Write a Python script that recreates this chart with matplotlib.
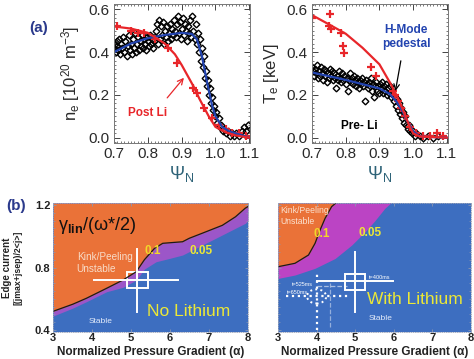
import matplotlib
matplotlib.use("Agg")
import matplotlib.pyplot as plt
from matplotlib.patches import Rectangle, Ellipse
from matplotlib.ticker import MultipleLocator

plt.rcParams['font.family'] = ['Liberation Sans', 'DejaVu Sans']
plt.rcParams['mathtext.fontset'] = 'custom'
plt.rcParams['mathtext.rm'] = 'Liberation Sans'
plt.rcParams['mathtext.it'] = 'Liberation Sans:italic'
plt.rcParams['mathtext.bf'] = 'Liberation Sans:bold'

# ---- (a) density profiles ----
ne_pre_x = [0.700, 0.702, 0.705, 0.708, 0.710, 0.713, 0.716, 0.719, 0.722, 0.725,
            0.728, 0.731, 0.734, 0.737, 0.740, 0.743, 0.746, 0.749, 0.752, 0.755,
            0.758, 0.761, 0.764, 0.767, 0.770, 0.773, 0.776, 0.779, 0.782, 0.785,
            0.788, 0.791, 0.794, 0.797, 0.800, 0.803, 0.806, 0.809, 0.812, 0.815,
            0.818, 0.821, 0.824, 0.827, 0.830, 0.833, 0.836, 0.839, 0.842, 0.845,
            0.848, 0.851, 0.854, 0.857, 0.860, 0.863, 0.866, 0.869, 0.872, 0.875,
            0.878, 0.881, 0.884, 0.887, 0.890, 0.893, 0.896, 0.899, 0.902, 0.905,
            0.908, 0.911, 0.914, 0.917, 0.920, 0.923, 0.926, 0.929, 0.932, 0.935,
            0.938, 0.941, 0.944, 0.947, 0.950, 0.953, 0.956, 0.959, 0.962, 0.965,
            0.968, 0.971, 0.974, 0.977, 0.980, 0.983, 0.986, 0.989, 0.992, 0.995,
            0.998, 1.001, 1.005, 1.009, 1.013, 1.017, 1.021, 1.026, 1.031, 1.036,
            1.042, 1.048, 1.055, 1.062, 1.070, 1.078, 1.085, 1.090, 1.095]
ne_pre_y = [0.42, 0.44, 0.40, 0.45, 0.43, 0.41, 0.46, 0.39, 0.44, 0.42,
            0.47, 0.40, 0.45, 0.38, 0.43, 0.48, 0.41, 0.44, 0.39, 0.46,
            0.42, 0.49, 0.40, 0.44, 0.47, 0.41, 0.45, 0.43, 0.48, 0.42,
            0.46, 0.44, 0.41, 0.47, 0.45, 0.43, 0.48, 0.44, 0.46, 0.42,
            0.45, 0.47, 0.50, 0.53, 0.44, 0.55, 0.46, 0.52, 0.48, 0.54,
            0.44, 0.50, 0.47, 0.52, 0.45, 0.49, 0.53, 0.46, 0.51, 0.48,
            0.55, 0.50, 0.47, 0.53, 0.57, 0.49, 0.54, 0.46, 0.51, 0.56,
            0.48, 0.53, 0.50, 0.45, 0.52, 0.49, 0.55, 0.47, 0.57, 0.50,
            0.46, 0.53, 0.44, 0.49, 0.40, 0.46, 0.36, 0.42, 0.33, 0.38,
            0.28, 0.31, 0.24, 0.27, 0.20, 0.23, 0.16, 0.19, 0.13, 0.15,
            0.10, 0.12, 0.07, 0.09, 0.05, 0.06, 0.03, 0.04, 0.02, 0.03,
            0.01, 0.02, 0.01, 0.02, 0.01, 0.03, 0.05, 0.03, 0.06]
ne_pre_fit_x = [0.70, 0.75, 0.80, 0.85, 0.90, 0.93, 0.945, 0.96, 0.975, 0.99, 1.00, 1.02, 1.04, 1.07, 1.10]
ne_pre_fit_y = [0.40, 0.44, 0.465, 0.48, 0.49, 0.485, 0.46, 0.38, 0.26, 0.15, 0.10, 0.05, 0.03, 0.015, 0.0]

ne_post_x = [0.71, 0.75, 0.77, 0.79, 0.82, 0.86, 0.885, 0.935, 0.945, 0.965, 0.99, 1.01, 1.03, 1.05, 1.07, 1.09]
ne_post_y = [0.52, 0.50, 0.49, 0.49, 0.46, 0.42, 0.35, 0.23, 0.21, 0.14, 0.09, 0.06, 0.04, 0.02, 0.02, 0.01]
ne_post_fit_x = [0.70, 0.75, 0.80, 0.85, 0.88, 0.90, 0.935, 0.953, 0.98, 1.00, 1.03, 1.06, 1.10]
ne_post_fit_y = [0.52, 0.51, 0.49, 0.44, 0.39, 0.34, 0.24, 0.18, 0.10, 0.05, 0.025, 0.01, 0.0]

# ---- (a) temperature profiles ----
te_pre_x = [0.700, 0.703, 0.706, 0.709, 0.712, 0.715, 0.718, 0.721, 0.724, 0.727,
            0.730, 0.733, 0.736, 0.739, 0.742, 0.745, 0.748, 0.751, 0.754, 0.757,
            0.760, 0.763, 0.766, 0.769, 0.772, 0.775, 0.778, 0.781, 0.784, 0.787,
            0.790, 0.793, 0.796, 0.800, 0.803, 0.806, 0.809, 0.812, 0.815, 0.818,
            0.821, 0.824, 0.827, 0.830, 0.833, 0.836, 0.839, 0.842, 0.845, 0.848,
            0.851, 0.854, 0.857, 0.860, 0.863, 0.866, 0.869, 0.872, 0.875, 0.878,
            0.881, 0.884, 0.887, 0.890, 0.893, 0.896, 0.899, 0.902, 0.905, 0.908,
            0.911, 0.914, 0.917, 0.920, 0.923, 0.926, 0.929, 0.932, 0.935, 0.938,
            0.941, 0.944, 0.947, 0.950, 0.953, 0.956, 0.959, 0.962, 0.965, 0.968,
            0.971, 0.974, 0.977, 0.980, 0.984, 0.988, 0.992, 0.996, 1.000, 1.005,
            1.010, 1.020, 1.030, 1.045, 1.060, 1.075]
te_pre_y = [0.33, 0.31, 0.29, 0.32, 0.30, 0.34, 0.28, 0.31, 0.29, 0.33,
            0.30, 0.27, 0.32, 0.29, 0.31, 0.26, 0.30, 0.28, 0.32, 0.29,
            0.31, 0.27, 0.30, 0.28, 0.23, 0.29, 0.27, 0.31, 0.28, 0.26,
            0.30, 0.27, 0.29, 0.25, 0.28, 0.22, 0.27, 0.30, 0.26, 0.28,
            0.25, 0.29, 0.27, 0.24, 0.28, 0.26, 0.23, 0.27, 0.25, 0.28,
            0.24, 0.26, 0.17, 0.27, 0.25, 0.23, 0.26, 0.24, 0.28, 0.22,
            0.25, 0.19, 0.24, 0.26, 0.22, 0.24, 0.21, 0.25, 0.23, 0.26,
            0.21, 0.24, 0.22, 0.25, 0.20, 0.23, 0.21, 0.24, 0.19, 0.22,
            0.20, 0.17, 0.19, 0.15, 0.18, 0.13, 0.16, 0.11, 0.14, 0.09,
            0.12, 0.07, 0.10, 0.06, 0.04, 0.06, 0.03, 0.02, 0.03, 0.01,
            0.02, 0.01, 0.00, 0.01, 0.00, 0.01]
te_pre_fit_x = [0.70, 0.80, 0.90, 0.93, 0.95, 0.97, 0.98, 1.00, 1.02, 1.10]
te_pre_fit_y = [0.305, 0.27, 0.23, 0.205, 0.17, 0.12, 0.085, 0.03, 0.005, 0.0]

te_post_x = [0.70, 0.75, 0.754, 0.756, 0.785, 0.793, 0.795, 0.876, 0.89, 0.94, 0.945,
             0.955, 0.965, 0.975, 0.99, 1.01, 1.03, 1.05, 1.07, 1.09]
te_post_y = [0.56, 0.52, 0.58, 0.51, 0.49, 0.43, 0.395, 0.33, 0.29, 0.22, 0.20,
             0.17, 0.14, 0.10, 0.05, 0.02, 0.01, 0.01, 0.02, 0.01]
te_post_fit_x = [0.70, 0.75, 0.80, 0.85, 0.90, 0.934, 0.95, 0.97, 0.99, 1.00, 1.02, 1.10]
te_post_fit_y = [0.573, 0.53, 0.486, 0.42, 0.343, 0.25, 0.20, 0.13, 0.05, 0.02, 0.005, 0.0]

# ---- (b) stability diagrams: boundaries in (alpha, edge current) ----
noli_b01_x = [3.0, 3.5, 3.85, 4.37, 4.79, 5.13, 5.34, 5.6, 5.81, 6.32, 6.49, 6.83, 7.34, 7.68, 7.93, 8.0]
noli_b01_y = [0.52, 0.565, 0.603, 0.667, 0.72, 0.773, 0.85, 0.923, 0.955, 0.965, 0.987, 1.02, 1.07, 1.125, 1.18, 1.19]
noli_b005_x = [3.0, 3.5, 3.85, 4.37, 4.79, 5.13, 5.34, 5.64, 5.98, 6.32, 6.74, 7.17, 7.51, 7.93, 8.0]
noli_b005_y = [0.49, 0.54, 0.581, 0.645, 0.673, 0.72, 0.79, 0.837, 0.858, 0.88, 0.933, 0.987, 1.03, 1.083, 1.10]

li_b01_x = [3.0, 3.44, 3.79, 3.96, 4.09, 4.22, 4.39, 4.5]
li_b01_y = [0.805, 0.827, 0.88, 0.955, 1.04, 1.115, 1.19, 1.213]
li_b005_x = [3.0, 3.44, 3.96, 4.48, 4.91, 5.26, 5.51, 5.77, 5.92]
li_b005_y = [0.73, 0.752, 0.795, 0.858, 0.944, 1.03, 1.10, 1.18, 1.213]

ORANGE = '#EA7238'
BLUE = '#3D6EC0'
PURPLE_L = '#9C56C8'
PURPLE_R = '#BB44C4'
YEL = '#ECE836'
GOLD = '#F2D82A'
NAVY = '#2B3A8C'
TEAL = '#2E6378'
RED = '#E8262A'
FITBLUE = '#2344B0'

fig = plt.figure(figsize=(4.74, 3.59), dpi=100)

ax1 = fig.add_axes([0.2405, 0.6017, 0.2869, 0.3872])
ax2 = fig.add_axes([0.6582, 0.6017, 0.2859, 0.3872])
ax3 = fig.add_axes([0.1125, 0.0752, 0.4107, 0.3593])
ax4 = fig.add_axes([0.5865, 0.0752, 0.4072, 0.3593])

for ax in (ax1, ax2):
    ax.set_xlim(0.7, 1.102)
    ax.set_ylim(-0.025, 0.625)
    ax.set_xticks([0.7, 0.8, 0.9, 1.0, 1.1])
    ax.set_yticks([0.0, 0.2, 0.4, 0.6])
    ax.set_xticklabels(['0.7', '0.8', '0.9', '1.0', '1.1'])
    ax.set_yticklabels(['0.0', '0.2', '0.4', '0.6'])
    ax.xaxis.set_minor_locator(MultipleLocator(0.01))
    ax.yaxis.set_minor_locator(MultipleLocator(0.02))
    ax.tick_params(which='both', direction='in', top=True, right=True,
                   labelsize=11, colors='#444444', labelcolor='#2a2a2a', pad=3)
    ax.tick_params(which='major', length=4, width=0.7)
    ax.tick_params(which='minor', length=1.5, width=0.5)
    for s in ax.spines.values():
        s.set_color('#777777')
        s.set_linewidth(0.7)
    ax.set_xlabel('Ψ$_{\\rm N}$', fontsize=13, color=TEAL, labelpad=2)

ax1.plot(ne_pre_x, ne_pre_y, 'D', ms=3.4, mfc='none', mec='black', mew=1.0)
ax1.plot(ne_post_x, ne_post_y, '+', ms=6, mec=RED, mew=1.6)
ax1.plot(ne_pre_fit_x, ne_pre_fit_y, '-', color=FITBLUE, lw=1.6)
ax1.plot(ne_post_fit_x, ne_post_fit_y, '-', color=RED, lw=1.6)
ax1.set_ylabel('n$_{\\rm e}$ [10$^{20}$ m$^{-3}$]', fontsize=12, color='#2a2a2a', labelpad=5)
ax1.text(0.80, 0.113, 'Post Li', color=RED, fontsize=8.5, fontweight='bold', ha='center', va='center')
ax1.annotate('', xy=(0.912, 0.29), xytext=(0.852, 0.176),
             arrowprops=dict(arrowstyle='->', color=RED, lw=0.9))

ax2.plot(te_pre_x, te_pre_y, 'D', ms=3.4, mfc='none', mec='black', mew=1.0)
ax2.plot(te_post_x, te_post_y, '+', ms=6, mec=RED, mew=1.6)
ax2.plot(te_pre_fit_x, te_pre_fit_y, '-', color=FITBLUE, lw=1.6)
ax2.plot(te_post_fit_x, te_post_fit_y, '-', color=RED, lw=1.6)
ax2.set_ylabel('T$_{\\rm e}$ [keV]', fontsize=12, color='#2a2a2a', labelpad=4)
ax2.text(0.84, 0.056, 'Pre- Li', color='black', fontsize=8.5, fontweight='bold', ha='center', va='center')
ax2.text(0.98, 0.47, 'H-Mode\npedestal', color=FITBLUE, fontsize=8.6, fontweight='bold',
         ha='center', va='center', linespacing=1.3)
ax2.annotate('', xy=(0.946, 0.205), xytext=(0.965, 0.372),
             arrowprops=dict(arrowstyle='->', color='black', lw=0.9))

fig.text(0.081, 0.921, '(a)', color=NAVY, fontsize=11, fontweight='bold', ha='center', va='center')
fig.text(0.034, 0.425, '(b)', color=NAVY, fontsize=11, fontweight='bold', ha='center', va='center')

# ---- (b) panels ----
for ax in (ax3, ax4):
    ax.set_facecolor(BLUE)
    ax.set_xlim(3, 8)
    ax.set_ylim(0.387, 1.213)
    ax.set_xticks([3, 4, 5, 6, 7, 8])
    ax.set_yticks([0.4, 0.8, 1.2])
    ax.yaxis.set_minor_locator(MultipleLocator(0.05))
    ax.tick_params(which='both', direction='in', top=True, right=True, colors='#8a96b0',
                   labelsize=8, labelcolor='#222222', pad=1)
    ax.tick_params(which='major', length=2.5, width=0.6)
    ax.tick_params(which='minor', length=1.2, width=0.5)
    for lab in ax.get_xticklabels() + ax.get_yticklabels():
        lab.set_fontweight('bold')
    for s in ax.spines.values():
        s.set_color('#9aa4bb')
        s.set_linewidth(0.6)
        s.set_linestyle(':')
    ax.set_xlabel('Normalized Pressure Gradient (α)', fontsize=8.5, fontweight='bold',
                  color='#222222', labelpad=2)

ax3.fill_between(noli_b005_x, noli_b005_y, 1.213, color=PURPLE_L, lw=0)
ax3.fill_between(noli_b01_x, noli_b01_y, 1.213, color=ORANGE, lw=0)
ax3.plot(noli_b01_x, noli_b01_y, '-', color='#1a1a1a', lw=0.9)
ax3.set_yticklabels(['0.4', '0.8', '1.2'])
for lab in ax3.get_yticklabels():
    lab.set_fontweight('bold')
ax3.tick_params(axis='y', pad=2)

ax4.fill_between(li_b005_x, li_b005_y, 1.213, color=PURPLE_R, lw=0)
ax4.fill_between(li_b01_x, li_b01_y, 1.213, color=ORANGE, lw=0)
ax4.plot(li_b01_x, li_b01_y, '-', color='#1a1a1a', lw=0.9)
ax4.set_yticklabels([])

fig.text(0.014, 0.255, 'Edge current', rotation=90, fontsize=7, fontweight='bold',
         color='#222222', ha='center', va='center')
fig.text(0.039, 0.255, '[(jmax+jsep)/2<j>]', rotation=90, fontsize=6.3, fontweight='bold',
         color='#222222', ha='center', va='center')

# no lithium labels
ax3.text(3.13, 1.072, 'γ$_{\\bf lin}$/(ω*/2)', fontsize=13, color='#111111', ha='left', va='center')
ax3.text(5.35, 0.908, '0.1', fontsize=8.5, fontweight='bold', color=GOLD, ha='left', va='center')
ax3.text(6.5, 0.908, '0.05', fontsize=8.5, fontweight='bold', color=YEL, ha='left', va='center')
ax3.text(3.6, 0.828, 'Kink/Peeling\nUnstable', fontsize=7.2, color='#F8DCC8', ha='left',
         va='center', linespacing=1.25)
ax3.text(3.9, 0.453, 'Stable', fontsize=6, color='#E4ECFA', ha='left', va='center')
ax3.text(5.4, 0.517, 'No Lithium', fontsize=12.5, color=YEL, ha='left', va='center')
ax3.add_patch(Rectangle((4.88, 0.667), 0.56, 0.106, fill=False, ec='white', lw=1.4))
ax3.plot([5.16, 5.16], [0.515, 0.92], color='white', lw=1.4)
ax3.plot([4.05, 6.2], [0.72, 0.72], color='white', lw=1.4)

# with lithium labels
ax4.text(3.05, 1.13, 'Kink/Peeling\nUnstable', fontsize=6.2, color='#FBE2D0', ha='left',
         va='center', linespacing=1.3)
ax4.text(3.93, 1.015, '0.1', fontsize=8.5, fontweight='bold', color=GOLD, ha='left', va='center')
ax4.text(5.08, 1.02, '0.05', fontsize=8.5, fontweight='bold', color=YEL, ha='left', va='center')
ax4.text(5.3, 0.592, 'With Lithium', fontsize=12.5, color=YEL, ha='left', va='center')
ax4.text(5.36, 0.475, 'Stable', fontsize=6, color='#E4ECFA', ha='left', va='center')
ax4.add_patch(Rectangle((4.74, 0.656), 0.52, 0.101, fill=False, ec='white', lw=1.4))
ax4.plot([5.0, 5.0], [0.515, 0.9], color='white', lw=1.4)
ax4.plot([4.0, 5.97], [0.715, 0.715], color='white', lw=1.4)
ax4.text(5.35, 0.737, 't=400ms', fontsize=4, color='white', ha='left', va='center')
# t=525ms (faint)
ax4.plot([4.0, 4.8], [0.68, 0.68], color='white', lw=0.9, ls='--', alpha=0.55)
ax4.plot([4.35, 4.35], [0.42, 0.70], color='white', lw=0.9, ls='--', alpha=0.45)
ax4.text(3.35, 0.69, 't=525ms', fontsize=4, color='white', ha='left', va='center')
# t=650ms (dotted)
ax4.plot([4.02, 4.02], [0.40, 0.76], color='white', lw=1.6, ls=':')
ax4.plot([3.2, 4.83], [0.615, 0.615], color='white', lw=1.6, ls=':')
ax4.add_patch(Ellipse((4.0, 0.615), 0.5, 0.09, fill=False, ec='white', lw=1.4, ls=':'))
ax4.text(3.22, 0.64, 't=650ms', fontsize=4, color='white', ha='left', va='center')

fig.savefig('out.png', dpi=100)
